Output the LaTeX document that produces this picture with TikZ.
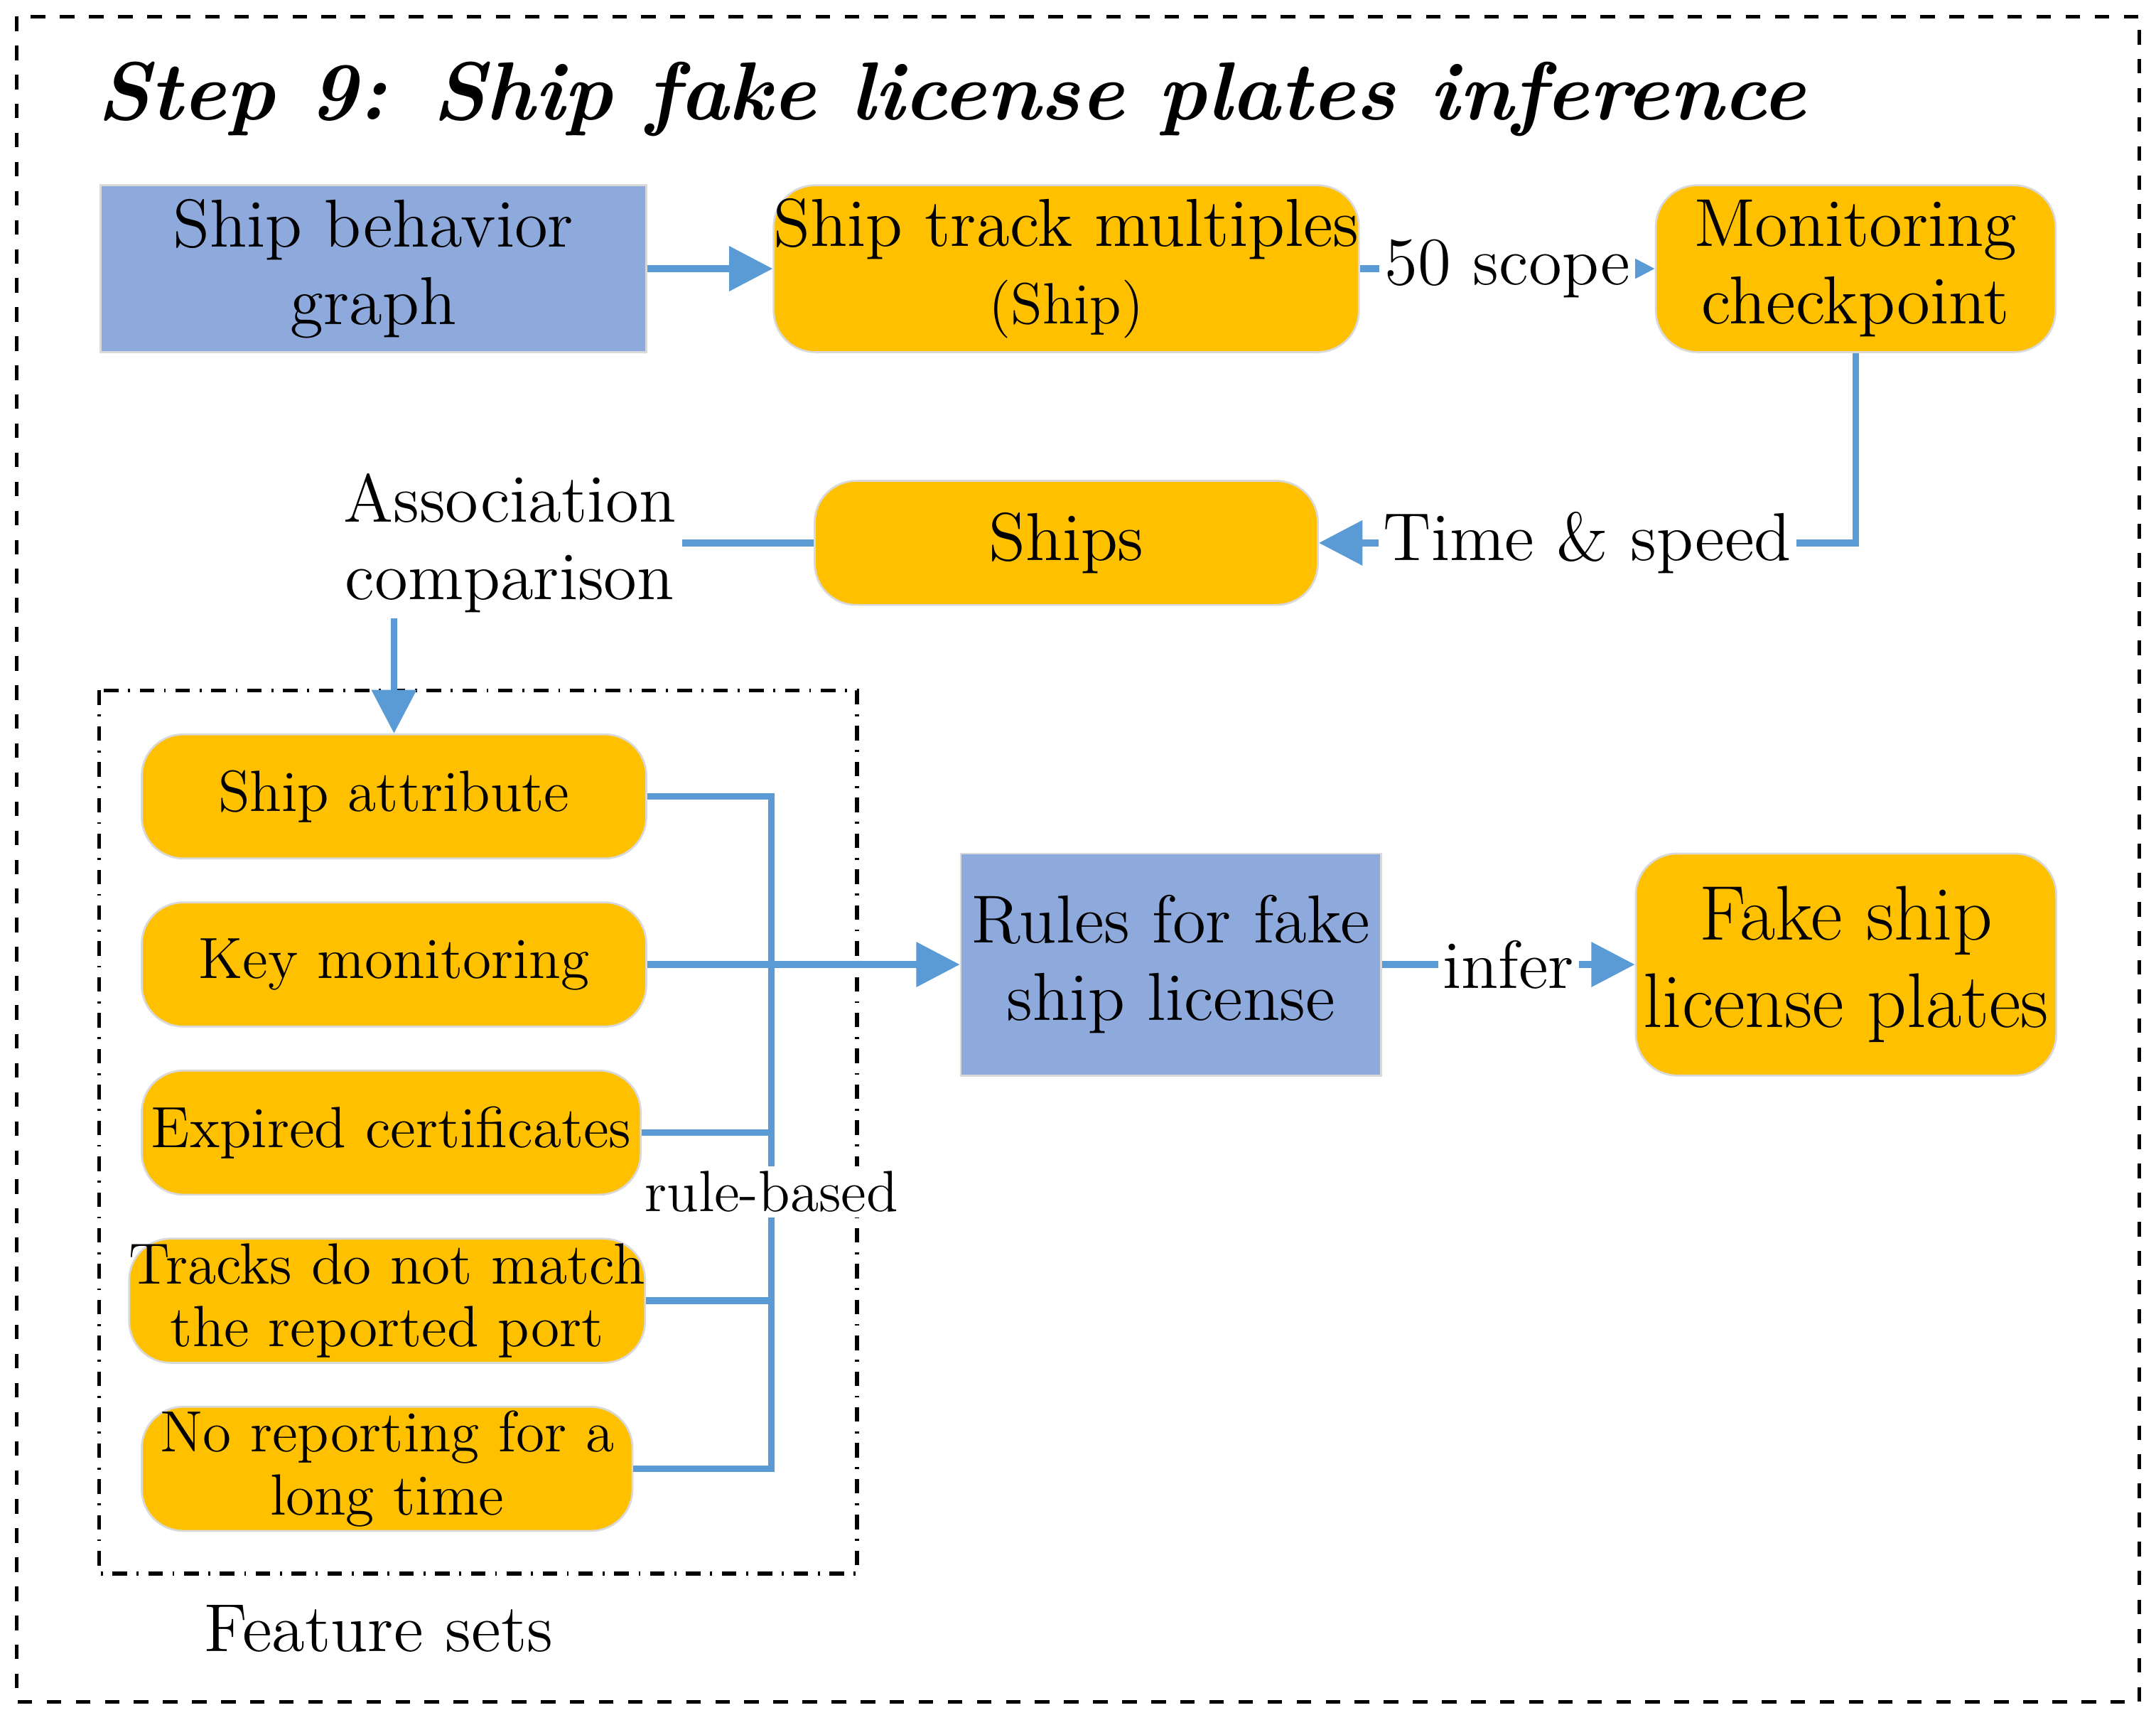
\documentclass[tikz,border=0pt]{standalone}
\usetikzlibrary{arrows.meta,positioning}
\definecolor{orng}{HTML}{FFC000}
\definecolor{blu}{HTML}{8EA9DB}
\definecolor{lnk}{HTML}{5B9BD5}
\tikzset{
    box/.style={draw=black!15,thin,align=center,inner sep=0pt},
    bluebox/.style={box,fill=blu,font=\fontsize{14}{16}\selectfont},
    orbig/.style={box,fill=orng,rounded corners=0.3cm,font=\fontsize{14}{16}\selectfont},
    orsmall/.style={box,fill=orng,rounded corners=0.3cm,font=\fontsize{12}{13}\selectfont},
    lbl/.style={fill=white,inner sep=1pt,align=center},
    link/.style={draw=lnk,line width=1.4pt},
    arr/.style={link,-{Triangle[length=9pt,width=9pt]}}
}
\begin{document}
\begin{tikzpicture}[x=0.01cm,y=-0.01cm]
\useasboundingbox (0,0) rectangle (1565,1248);
\draw[dashed,thick] (12,12) rectangle (1553,1235);
\node[anchor=west,font=\fontsize{17}{19}\selectfont\bfseries\itshape] (title) at (58,72) {Step 9: Ship fake license plates inference};

% top row
\node[bluebox,minimum width=3.96cm,minimum height=1.21cm] (graph) at (271,195) {Ship behavior\\graph};
\node[orbig,minimum width=3.65cm,minimum height=1.21cm] (track) at (774,195) {Ship track multiples\\{\fontsize{12}{13}\selectfont (Ship)}};
\node[orbig,minimum width=2.9cm,minimum height=1.21cm] (check) at (1347,195) {Monitoring\\checkpoint};
\node[orbig,minimum width=3.65cm,minimum height=0.9cm] (ships) at (774,394) {Ships};
\node[lbl,font=\fontsize{14}{16}\selectfont] (assoc) at (370,394) {Association\\comparison};

% feature sets
\draw[dash dot,thick] (72,501) rectangle (622,1142);
\node[font=\fontsize{14}{16}\selectfont] (fsets) at (275,1182) {Feature sets};
\node[orsmall,minimum width=3.66cm,minimum height=0.9cm] (f1) at (286,578) {Ship attribute};
\node[orsmall,minimum width=3.66cm,minimum height=0.9cm] (f2) at (286,700) {Key monitoring};
\node[orsmall,minimum width=3.62cm,minimum height=0.9cm] (f3) at (284,822) {Expired certificates};
\node[orsmall,minimum width=3.56cm,minimum height=0.9cm] (f4) at (281,944) {Tracks do not match\\the reported port};
\node[orsmall,minimum width=3.56cm,minimum height=0.9cm] (f5) at (281,1066) {No reporting for a\\long time};

\node[bluebox,minimum width=3.05cm,minimum height=1.61cm] (rules) at (850,700) {Rules for fake\\ship license};
\node[orbig,minimum width=3.05cm,minimum height=1.61cm,font=\fontsize{16}{18}\selectfont] (fake) at (1340,700) {Fake ship\\license plates};

% connectors
\draw[arr] (graph) -- (track);
\draw[arr] (track) -- node[lbl,font=\fontsize{14}{16}\selectfont] {50 scope} (check);
\draw[arr] (check.south) |- node[lbl,pos=0.75,font=\fontsize{14}{16}\selectfont] {Time \& speed} (ships);
\draw[link] (ships) -- (assoc);
\draw[arr] (assoc.south -| f1.north) -- (f1.north);
\coordinate (bt) at (560,578);
\coordinate (bb) at (560,1066);
\draw[link] (f1) -- (bt) -- (bb) -- (f5);
\draw[link] (f3) -- (f3 -| bt);
\draw[link] (f4) -- (f4 -| bt);
\draw[arr] (f2) -- (rules);
\node[lbl,font=\fontsize{12}{13}\selectfont] (rb) at (560,865) {rule-based};
\draw[arr] (rules) -- node[lbl,font=\fontsize{14}{16}\selectfont] {infer} (fake);
\end{tikzpicture}
\end{document}
